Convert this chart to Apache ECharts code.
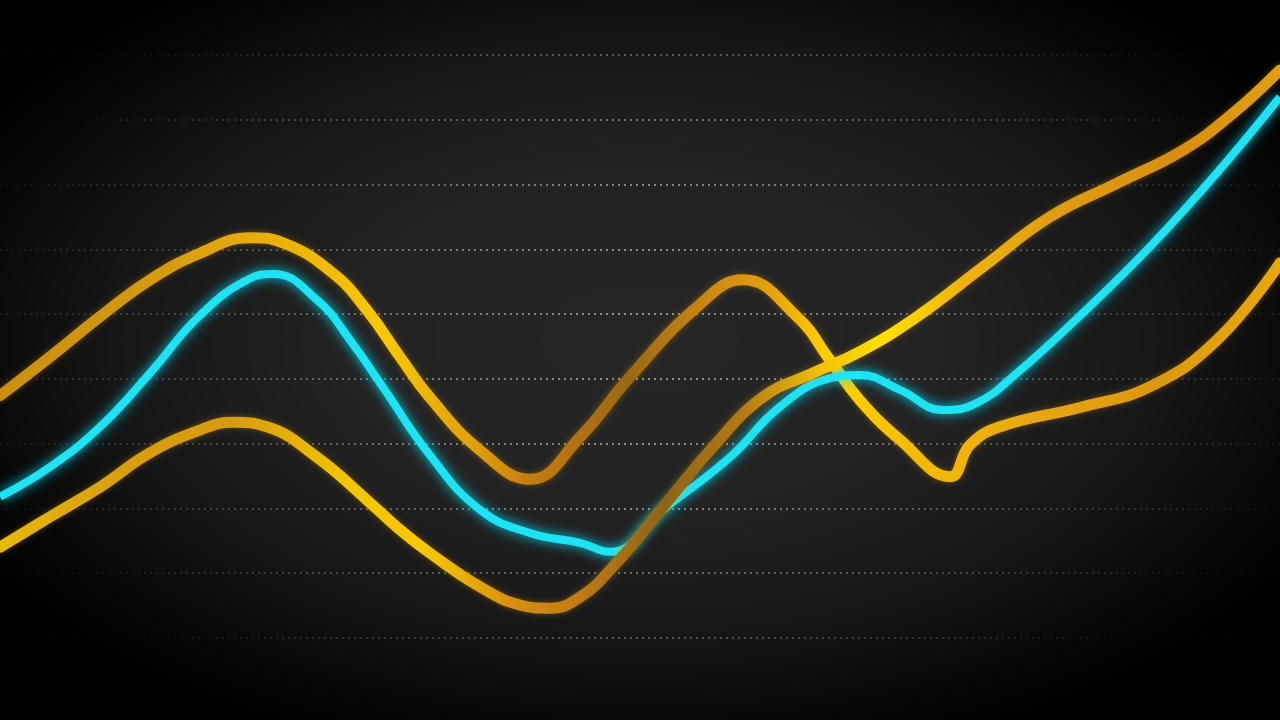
<!DOCTYPE html>
<html>
<head>
<meta charset="utf-8">
<script src="https://cdn.jsdelivr.net/npm/echarts@6/dist/echarts.min.js"></script>
<style>
html,body{margin:0;padding:0;background:#000;}
#chart{width:1280px;height:720px;background:#262626;}
</style>
</head>
<body>
<div id="chart"></div>
<script>
// x positions (0..1280 scale) and values (grid units, gridlines at integers 0..9)
const goldAX = [0,50,100,150,200,250,283,333,367,400,430,480,530,580,630,697,743,797,830,860,900,950,970,1000,1083,1150,1217,1280];
const goldAY = [3.74,4.34,4.96,5.53,5.94,6.18,6.10,5.63,5.06,4.34,3.71,2.90,2.45,3.10,4.03,5.11,5.53,4.96,4.29,3.67,3.06,2.49,2.98,3.26,3.57,3.88,4.60,5.79];

const cyanX = [0,50,100,150,200,250,273,317,350,383,430,480,530,580,610,663,730,780,830,860,900,943,977,1017,1083,1150,1217,1280];
const cyanY = [2.18,2.64,3.26,4.09,4.98,5.55,5.62,5.22,4.60,3.87,2.82,1.98,1.62,1.47,1.33,1.98,2.79,3.57,4.01,4.06,3.83,3.52,3.63,4.09,5.02,6.04,7.18,8.35];

const goldBX = [0,50,100,150,200,233,267,317,367,400,430,480,520,550,580,613,663,713,763,813,860,917,983,1050,1117,1183,1233,1280];
const goldBY = [1.40,1.87,2.33,2.86,3.21,3.33,3.26,2.79,2.13,1.67,1.31,0.79,0.51,0.46,0.63,1.10,2.02,2.95,3.72,4.09,4.42,4.96,5.73,6.50,7.02,7.53,8.10,8.77];

const yTicks = [0,1,2,3,4,5,6,7,8,9];

function pairs(xs, ys){ return xs.map((x,i)=>[x, ys[i]]); }
function grad(stops){
  return {type:'linear', x:0, y:0, x2:1280, y2:0, global:true,
    colorStops: stops.map(s=>({offset:s[0], color:s[1]}))};
}

const chart = echarts.init(document.getElementById('chart'), null, {renderer:'canvas'});
chart.setOption({
  backgroundColor: 'transparent',
  animation: false,
  grid: {left:0, right:0, top:55, bottom:82},
  xAxis: {type:'value', min:0, max:1280, show:false},
  yAxis: {
    type:'value', min:yTicks[0], max:yTicks[yTicks.length-1], interval:1,
    axisLine:{show:false}, axisTick:{show:false}, axisLabel:{show:false},
    splitLine:{show:true, lineStyle:{
      width:2, type:[2,4],
      color: {type:'linear', x:0, y:0, x2:1, y2:0,
        colorStops:[{offset:0,color:'rgba(200,200,200,0.3)'},{offset:0.5,color:'rgba(220,220,220,0.6)'},{offset:1,color:'rgba(200,200,200,0.3)'}]}
    }}
  },
  graphic: [{
    type:'rect', z:1, silent:true,
    x:640, y:340, scaleX:1.52, scaleY:0.86,
    shape:{x:-500, y:-500, width:1000, height:1000},
    style:{fill:{type:'radial', x:0.5, y:0.5, r:0.5,
      colorStops:[
        {offset:0, color:'rgba(0,0,0,0)'},
        {offset:0.4, color:'rgba(0,0,0,0.08)'},
        {offset:0.7, color:'rgba(0,0,0,0.42)'},
        {offset:0.9, color:'rgba(0,0,0,0.8)'},
        {offset:1, color:'rgba(0,0,0,0.96)'}
      ]}}
  }],
  series: [
    {
      type:'line', name:'gold A', data:pairs(goldAX, goldAY), smooth:0.45, symbol:'none', clip:false, z:3,
      lineStyle:{width:11, cap:'round',
        color: grad([[0,'#c98f12'],[0.12,'#d49a10'],[0.2,'#e8ac0c'],[0.3,'#f7c808'],[0.37,'#e0a00c'],[0.42,'#c27a12'],[0.49,'#9c6814'],[0.56,'#d08a12'],[0.6,'#e3a010'],[0.65,'#ffd400'],[0.71,'#f2bc0a'],[0.75,'#f0b408'],[0.8,'#e8a812'],[0.9,'#dc980e'],[1,'#e8a80c']]),
        shadowColor:'rgba(255,170,0,0.35)', shadowBlur:6}
    },
    {
      type:'line', name:'cyan', data:pairs(cyanX, cyanY), smooth:0.45, symbol:'none', clip:false, z:4,
      lineStyle:{width:8, color:'#1ee3f2', shadowColor:'rgba(0,225,255,0.9)', shadowBlur:12}
    },
    {
      type:'line', name:'gold B', data:pairs(goldBX, goldBY), smooth:0.45, symbol:'none', clip:false, z:5,
      lineStyle:{width:11, cap:'round',
        color: grad([[0,'#e8b80a'],[0.1,'#d89e0e'],[0.18,'#d89a10'],[0.27,'#f2c408'],[0.33,'#f6c806'],[0.4,'#d89010'],[0.45,'#c27c14'],[0.52,'#8c6418'],[0.58,'#b47a14'],[0.64,'#f0c008'],[0.69,'#ffe000'],[0.75,'#f0b40c'],[0.82,'#e09e10'],[0.92,'#d88e12'],[1,'#e0a010']]),
        shadowColor:'rgba(255,170,0,0.35)', shadowBlur:6}
    }
  ]
});
</script>
</body>
</html>
